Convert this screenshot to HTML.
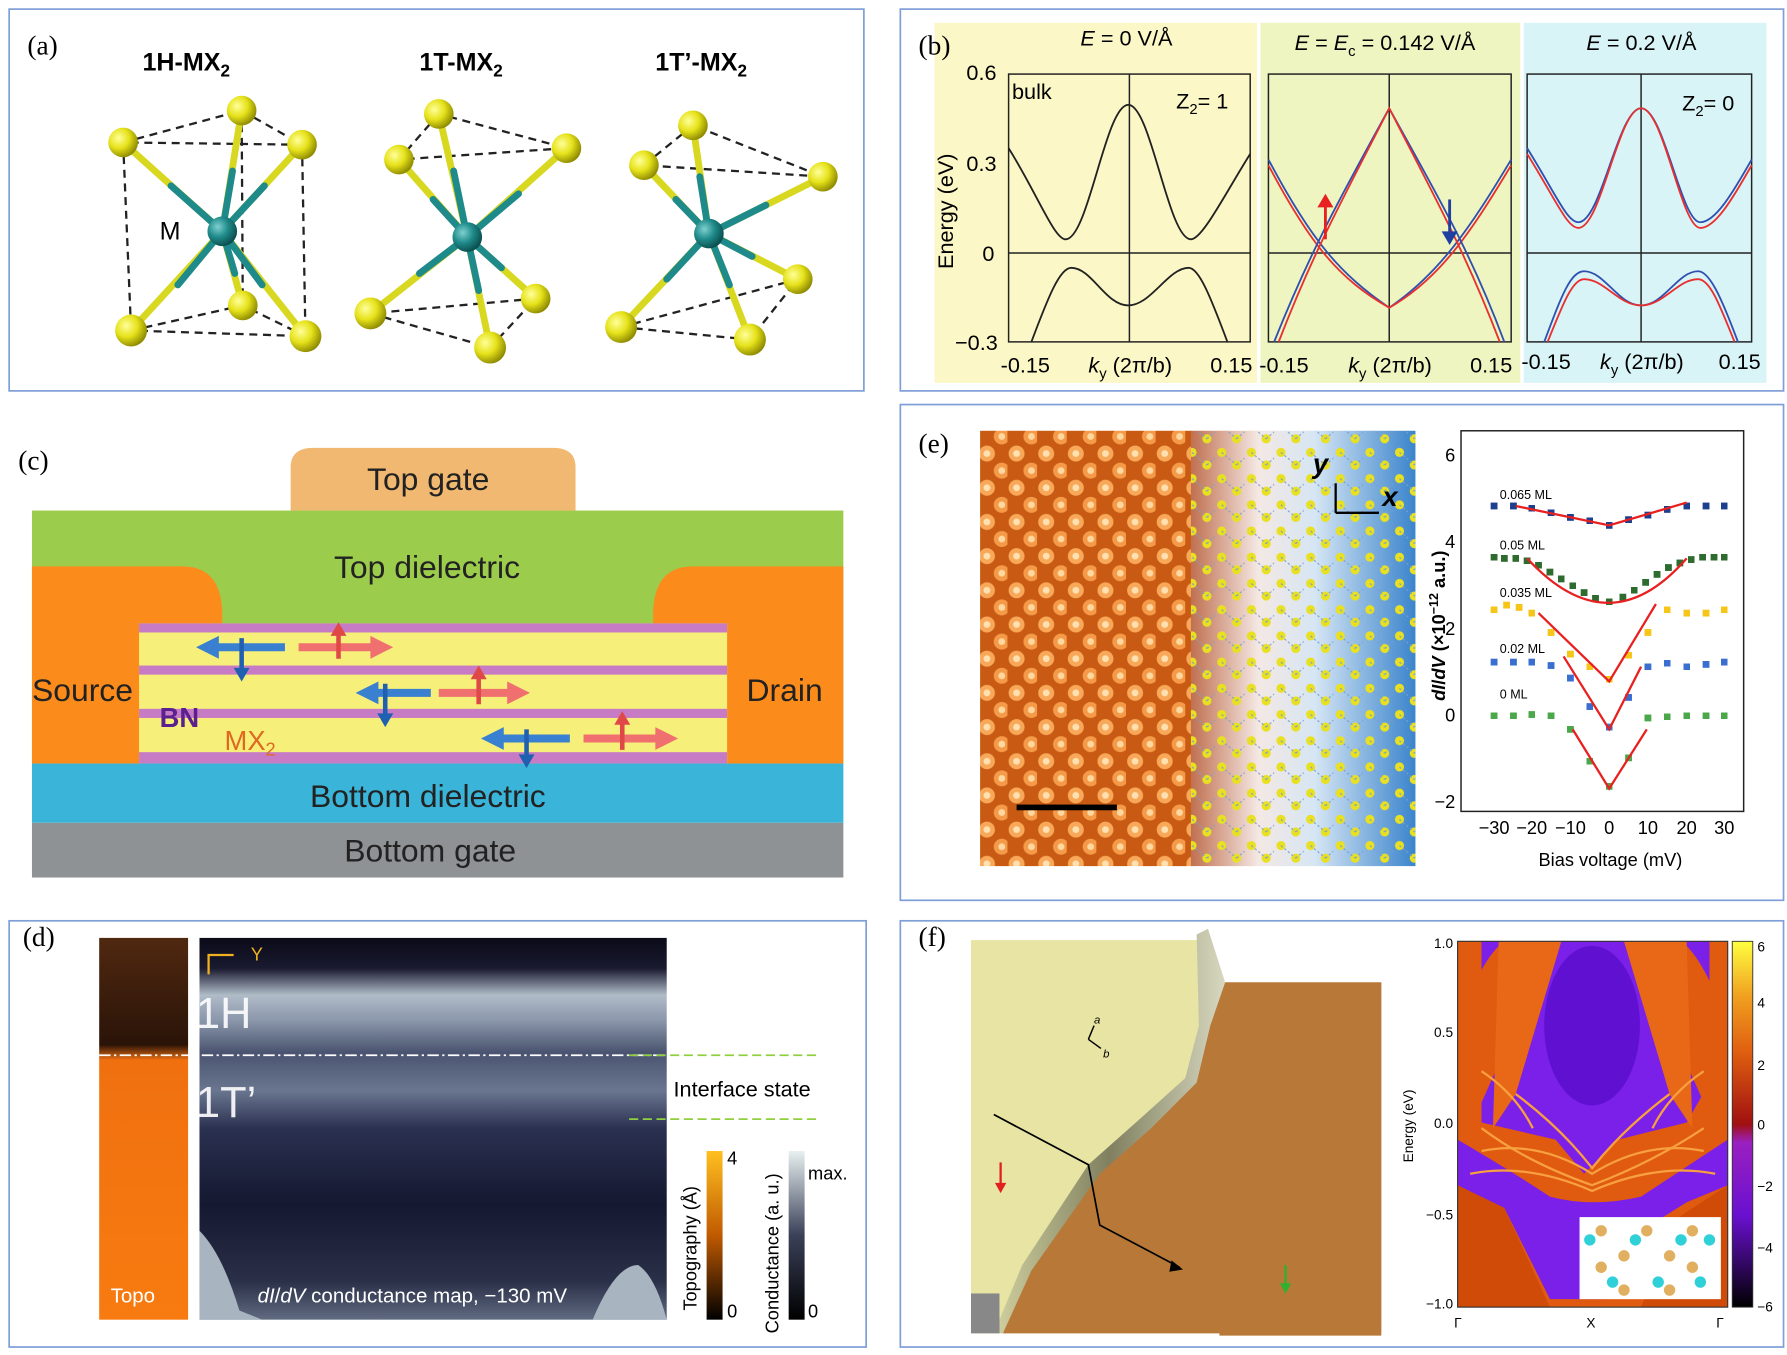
<!DOCTYPE html>
<html><head><meta charset="utf-8"><style>html,body{margin:0;padding:0;background:#fff}svg{display:block}text{font-family:"Liberation Sans",sans-serif}</style></head><body>
<svg width="1787" height="1355" viewBox="0 0 1568 1189" xmlns="http://www.w3.org/2000/svg">
<defs>
<radialGradient id="ys" cx="0.35" cy="0.35" r="0.7"><stop offset="0" stop-color="#ffff9a"/><stop offset="0.5" stop-color="#e6e21a"/><stop offset="1" stop-color="#8a8600"/></radialGradient>
<radialGradient id="ts" cx="0.35" cy="0.35" r="0.7"><stop offset="0" stop-color="#7fd0d0"/><stop offset="0.5" stop-color="#1f8a8a"/><stop offset="1" stop-color="#0a4a4a"/></radialGradient>
<linearGradient id="eg" x1="0" x2="1"><stop offset="0" stop-color="#c07050"/><stop offset="0.3" stop-color="#f4e8e4"/><stop offset="0.55" stop-color="#d6e6f4"/><stop offset="1" stop-color="#3a84cc"/></linearGradient>
<pattern id="stm" width="26" height="30" patternUnits="userSpaceOnUse"><rect width="26" height="30" fill="#c85a14"/><circle cx="8" cy="8" r="7" fill="#f8a858"/><circle cx="21" cy="23" r="7" fill="#f49a48"/><circle cx="8" cy="8" r="3" fill="#ffe0b0"/><circle cx="21" cy="23" r="3" fill="#ffd8a0"/></pattern>
<pattern id="ydots" width="26" height="23" patternUnits="userSpaceOnUse"><circle cx="6" cy="6" r="4" fill="#e8e020"/><circle cx="19" cy="17" r="4" fill="#e8e020"/><path d="M6 6 L19 17 M19 17 L32 6" stroke="#7aa0c8" stroke-width="1" stroke-dasharray="2 2"/></pattern>
<linearGradient id="dm" x1="0" y1="0" x2="0" y2="1"><stop offset="0" stop-color="#0a0a18"/><stop offset="0.08" stop-color="#1a1a30"/><stop offset="0.15" stop-color="#b0bcc8"/><stop offset="0.22" stop-color="#8894a8"/><stop offset="0.3" stop-color="#4a5470"/><stop offset="0.4" stop-color="#6a7690"/><stop offset="0.5" stop-color="#2a3050"/><stop offset="0.7" stop-color="#141830"/><stop offset="0.9" stop-color="#2a3048"/><stop offset="1" stop-color="#606a80"/></linearGradient>
<linearGradient id="topo" x1="0" y1="0" x2="0" y2="1"><stop offset="0" stop-color="#502810"/><stop offset="0.28" stop-color="#2a1408"/><stop offset="0.32" stop-color="#f07010"/><stop offset="1" stop-color="#f77b10"/></linearGradient>
<linearGradient id="cbo" x1="0" y1="1" x2="0" y2="0"><stop offset="0" stop-color="#000"/><stop offset="0.5" stop-color="#c05a00"/><stop offset="1" stop-color="#ffc020"/></linearGradient>
<linearGradient id="cbg" x1="0" y1="1" x2="0" y2="0"><stop offset="0" stop-color="#000"/><stop offset="0.5" stop-color="#3a4058"/><stop offset="1" stop-color="#e8f0f0"/></linearGradient>
<linearGradient id="cbf" x1="0" y1="1" x2="0" y2="0"><stop offset="0" stop-color="#000"/><stop offset="0.25" stop-color="#6a10d0"/><stop offset="0.45" stop-color="#9a20c0"/><stop offset="0.5" stop-color="#a01010"/><stop offset="0.7" stop-color="#e06010"/><stop offset="0.85" stop-color="#f0a020"/><stop offset="1" stop-color="#ffff40"/></linearGradient>
<linearGradient id="step" x1="0" x2="1"><stop offset="0" stop-color="#d0d0a0"/><stop offset="0.5" stop-color="#808060"/><stop offset="1" stop-color="#d8d8c0"/></linearGradient>
<marker id="mn" markerWidth="6" markerHeight="6" refX="3" refY="3" markerUnits="userSpaceOnUse"><rect width="6" height="6" fill="#1d3f8f"/></marker>
<marker id="mg" markerWidth="6" markerHeight="6" refX="3" refY="3" markerUnits="userSpaceOnUse"><rect width="6" height="6" fill="#2e6b2e"/></marker>
<marker id="my" markerWidth="6" markerHeight="6" refX="3" refY="3" markerUnits="userSpaceOnUse"><rect width="6" height="6" fill="#f5c518"/></marker>
<marker id="mb" markerWidth="6" markerHeight="6" refX="3" refY="3" markerUnits="userSpaceOnUse"><rect width="6" height="6" fill="#3a6fd0"/></marker>
<marker id="ml" markerWidth="6" markerHeight="6" refX="3" refY="3" markerUnits="userSpaceOnUse"><rect width="6" height="6" fill="#4aa84a"/></marker>
</defs>
<rect width="1568" height="1189" fill="#fff"/>
<!-- (b) backgrounds first -->
<rect x="820" y="20" width="283" height="316" fill="#fbf7c6"/><rect x="1106" y="20" width="228" height="316" fill="#eef5c0"/><rect x="1337" y="20" width="213" height="316" fill="#d9f4f6"/>
<!-- panel borders -->
<g fill="none" stroke="#7f9fd8" stroke-width="1.5">
<rect x="8" y="8" width="750" height="335"/><rect x="790" y="8" width="775" height="335"/>
<rect x="790" y="355" width="775" height="435"/><rect x="8" y="808" width="752" height="374"/><rect x="790" y="808" width="775" height="374"/>
</g>
<g font-size="24" fill="#000">
<text x="24" y="48" style="font-family:'Liberation Serif'">(a)</text><text x="806" y="48" style="font-family:'Liberation Serif'">(b)</text>
<text x="16" y="412" style="font-family:'Liberation Serif'">(c)</text><text x="806" y="397" style="font-family:'Liberation Serif'">(e)</text>
<text x="20" y="830" style="font-family:'Liberation Serif'">(d)</text><text x="806" y="830" style="font-family:'Liberation Serif'">(f)</text>
</g>
<!-- (a) -->
<g font-weight="bold" font-size="22"><text x="125" y="62">1H-MX<tspan font-size="15" dy="5">2</tspan></text><text x="368" y="62">1T-MX<tspan font-size="15" dy="5">2</tspan></text><text x="575" y="62">1T’-MX<tspan font-size="15" dy="5">2</tspan></text></g>
<g stroke="#222" stroke-width="2" stroke-dasharray="7 5" fill="none">
<path d="M108 125L212 97L265 127L108 125M108 125L115 290M265 127L268 295M212 97L213 268M115 290L213 268L268 295L115 290"/>
<path d="M385 100L350 140L497 130L385 100M325 275L430 305L470 262L325 275"/>
<path d="M608 110L565 145L722 155L608 110M545 287L658 298L700 245L545 287"/>
</g>
<g stroke-width="6" stroke-linecap="round">
<g stroke="#d8d820"><path d="M195 203L108 125M195 203L265 127M195 203L212 97M195 203L115 290M195 203L213 268M195 203L268 295"/>
<path d="M410 208L385 100M410 208L350 140M410 208L497 130M410 208L325 275M410 208L430 305M410 208L470 262"/>
<path d="M622 205L608 110M622 205L565 145M622 205L722 155M622 205L545 287M622 205L658 298M622 205L700 245"/></g>
<g stroke="#1f8a8a"><path d="M195 203L150 163M195 203L232 163M195 203L204 150M195 203L156 250M195 203L206 240M195 203L230 250"/>
<path d="M410 208L398 150M410 208L380 175M410 208L455 170M410 208L368 240M410 208L420 255M410 208L440 235"/>
<path d="M622 205L614 155M622 205L593 175M622 205L672 180M622 205L585 245M622 205L640 250M622 205L660 225"/></g>
</g>
<g fill="url(#ys)"><circle cx="108" cy="125" r="13"/><circle cx="212" cy="97" r="13"/><circle cx="265" cy="127" r="13"/><circle cx="115" cy="290" r="14"/><circle cx="213" cy="268" r="13"/><circle cx="268" cy="295" r="14"/>
<circle cx="385" cy="100" r="13"/><circle cx="350" cy="140" r="13"/><circle cx="497" cy="130" r="13"/><circle cx="325" cy="275" r="14"/><circle cx="430" cy="305" r="14"/><circle cx="470" cy="262" r="13"/>
<circle cx="608" cy="110" r="13"/><circle cx="565" cy="145" r="13"/><circle cx="722" cy="155" r="13"/><circle cx="545" cy="287" r="14"/><circle cx="658" cy="298" r="14"/><circle cx="700" cy="245" r="13"/></g>
<g fill="url(#ts)"><circle cx="195" cy="203" r="13"/><circle cx="410" cy="208" r="13"/><circle cx="622" cy="205" r="13"/></g>
<text x="140" y="210" font-size="22">M</text>
<!-- (b) plots -->
<g fill="none" stroke="#222" stroke-width="1.3">
<rect x="885" y="65" width="212" height="235"/><rect x="1113" y="65" width="213" height="235"/><rect x="1340" y="65" width="197" height="235"/>
<path d="M885 222H1097M991 65V300M1113 222H1326M1219 65V300M1340 222H1537M1440 65V300"/>
<path d="M885 130C910 170 925 210 935 210C955 210 970 92 990 92C1010 92 1025 210 1045 210C1055 210 1075 170 1097 135" stroke-width="1.6"/>
<path d="M905 300C920 260 930 235 940 235C958 235 970 268 990 268C1010 268 1025 235 1043 235C1052 235 1062 260 1077 300" stroke-width="1.6"/>
</g>
<g fill="none" stroke-width="1.6">
<path d="M1113 140C1150 210 1175 240 1219 270C1263 240 1290 200 1326 140" stroke="#3050b0"/>
<path d="M1113 145C1150 215 1175 245 1219 270C1263 245 1290 205 1326 145" stroke="#e83030"/>
<path d="M1118 300C1150 220 1175 175 1219 95C1263 175 1290 220 1320 300" stroke="#3050b0"/>
<path d="M1122 300C1152 222 1177 177 1219 95C1261 177 1286 222 1316 300" stroke="#e83030"/>
<path d="M1340 130C1365 170 1375 195 1385 195C1405 195 1420 95 1440 95C1460 95 1475 195 1492 195C1505 195 1520 170 1537 140" stroke="#3050b0"/>
<path d="M1340 135C1365 175 1375 200 1385 200C1405 200 1420 95 1440 95C1460 95 1475 200 1492 200C1505 200 1520 175 1537 145" stroke="#e83030"/>
<path d="M1355 300C1370 260 1378 238 1390 238C1408 238 1420 268 1440 268C1460 268 1472 238 1490 238C1500 238 1510 260 1525 300" stroke="#3050b0"/>
<path d="M1358 300C1372 265 1380 245 1390 245C1408 245 1420 268 1440 268C1460 268 1472 245 1490 245C1500 245 1508 265 1522 300" stroke="#e83030"/>
</g>
<path d="M1163 210V178" stroke="#e82020" stroke-width="2.5"/><path d="M1156 182L1163 170L1170 182Z" fill="#e82020"/>
<path d="M1272 175V207" stroke="#2040a0" stroke-width="2.5"/><path d="M1265 203L1272 215L1279 203Z" fill="#2040a0"/>
<g font-size="19"><text x="948" y="40"><tspan font-style="italic">E</tspan> = 0 V/Å</text><text x="1136" y="44"><tspan font-style="italic">E</tspan> = <tspan font-style="italic">E</tspan><tspan font-size="13" dy="5">c</tspan><tspan dy="-5"> = 0.142 V/Å</tspan></text><text x="1392" y="44"><tspan font-style="italic">E</tspan> = 0.2 V/Å</text>
<text x="848" y="70">0.6</text><text x="848" y="150">0.3</text><text x="862" y="229">0</text><text x="838" y="307">−0.3</text>
<text x="888" y="87">bulk</text><text x="1032" y="95">Z<tspan font-size="13" dy="5">2</tspan><tspan dy="-5">= 1</tspan></text><text x="1476" y="97">Z<tspan font-size="13" dy="5">2</tspan><tspan dy="-5">= 0</tspan></text>
<text x="878" y="327">-0.15</text><text x="955" y="327"><tspan font-style="italic">k</tspan><tspan font-size="13" dy="5">y</tspan><tspan dy="-5"> (2π/b)</tspan></text><text x="1062" y="327">0.15</text>
<text x="1105" y="327">-0.15</text><text x="1183" y="327"><tspan font-style="italic">k</tspan><tspan font-size="13" dy="5">y</tspan><tspan dy="-5"> (2π/b)</tspan></text><text x="1290" y="327">0.15</text>
<text x="1335" y="324">-0.15</text><text x="1404" y="324"><tspan font-style="italic">k</tspan><tspan font-size="13" dy="5">y</tspan><tspan dy="-5"> (2π/b)</tspan></text><text x="1508" y="324">0.15</text>
<text transform="translate(836 236) rotate(-90)">Energy  (eV)</text></g>
<!-- (c) -->
<path d="M255 448V410Q255 393 275 393H485Q505 393 505 410V448Z" fill="#f0b870"/>
<rect x="28" y="448" width="712" height="222" fill="#9ccc4c"/>
<path d="M28 670V497H160Q195 497 195 540V670Z" fill="#fb8c1c"/>
<path d="M740 670V497H608Q573 497 573 540V670Z" fill="#fb8c1c"/>
<rect x="122" y="547" width="516" height="123" fill="#f6f07a"/>
<g fill="#c77bc4"><rect x="122" y="547" width="516" height="8"/><rect x="122" y="584" width="516" height="8"/><rect x="122" y="622" width="516" height="8"/><rect x="122" y="660" width="516" height="10"/></g>
<rect x="28" y="670" width="712" height="52" fill="#3ab4d8"/><rect x="28" y="722" width="712" height="48" fill="#8e9294"/>
<g stroke-width="7">
<path d="M190 568H250M330 608H378M440 648H500" stroke="#3a80d0"/>
<path d="M262 568H330M385 608H450M512 648H580" stroke="#f07070"/>
</g>
<g fill="#3a80d0"><path d="M172 568L192 558V578Z"/><path d="M312 608L332 598V618Z"/><path d="M422 648L442 638V658Z"/></g>
<g fill="#f07070"><path d="M345 568L325 558V578Z"/><path d="M465 608L445 598V618Z"/><path d="M595 648L575 638V658Z"/></g>
<g stroke-width="4"><path d="M212 560V588M338 600V628M462 640V664" stroke="#2060b0"/><path d="M297 578V556M420 618V594M546 658V634" stroke="#e04848"/></g>
<g fill="#2060b0"><path d="M205 586L212 598L219 586Z"/><path d="M331 626L338 638L345 626Z"/><path d="M455 662L462 674L469 662Z"/></g>
<g fill="#e04848"><path d="M290 558L297 546L304 558Z"/><path d="M413 596L420 584L427 596Z"/><path d="M539 636L546 624L553 636Z"/></g>
<g font-size="28" fill="#222"><text x="322" y="430">Top gate</text><text x="293" y="507">Top dielectric</text><text x="28" y="615">Source</text><text x="655" y="615">Drain</text><text x="272" y="708">Bottom dielectric</text><text x="302" y="756">Bottom gate</text>
<text x="140" y="638" fill="#5a2090" font-weight="bold" font-size="24">BN</text><text x="197" y="658" fill="#e06820" font-size="24">MX<tspan font-size="16" dy="5">2</tspan></text></g>
<!-- (d) -->
<rect x="87" y="823" width="78" height="335" fill="url(#topo)"/>
<rect x="175" y="823" width="410" height="335" fill="url(#dm)"/>
<path d="M175 1158V1080Q195 1100 210 1150L230 1158ZM520 1158Q540 1110 560 1110Q575 1120 585 1158Z" fill="#a8b4c0"/>
<path d="M87 926H585" stroke="#fff" stroke-width="1.5" stroke-dasharray="10 3 2 3"/>
<path d="M552 926H718M552 982H718" stroke="#90d040" stroke-width="1.5" stroke-dasharray="8 4"/>
<g fill="#fff" font-size="38" opacity="0.9"><text x="172" y="902">1H</text><text x="172" y="980">1T’</text></g>
<path d="M183 855V838H205" stroke="#f0b020" stroke-width="2" fill="none"/><text x="220" y="843" fill="#f0b020" font-size="16">Y</text>
<g font-size="18" fill="#fff"><text x="97" y="1143">Topo</text><text x="226" y="1143"><tspan font-style="italic">dI</tspan>/<tspan font-style="italic">dV</tspan> conductance map, −130 mV</text></g>
<text x="591" y="962" font-size="19">Interface state</text>
<rect x="620" y="1010" width="14" height="148" fill="url(#cbo)"/><rect x="692" y="1010" width="14" height="148" fill="url(#cbg)"/>
<g font-size="16"><text x="638" y="1022">4</text><text x="638" y="1156">0</text><text x="709" y="1035">max.</text><text x="709" y="1156">0</text>
<text transform="translate(611 1150) rotate(-90)">Topography (Å)</text><text transform="translate(683 1170) rotate(-90)">Conductance (a. u.)</text></g>
<!-- (e) -->
<rect x="860" y="378" width="186" height="382" fill="url(#stm)"/>
<rect x="1045" y="378" width="197" height="382" fill="url(#eg)"/><rect x="1045" y="378" width="197" height="382" fill="url(#ydots)"/>
<rect x="892" y="706" width="88" height="5" fill="#000"/>
<path d="M1172 450V424M1172 450H1210" stroke="#000" stroke-width="2" fill="none"/><text x="1152" y="415" font-size="24" font-style="italic" font-weight="bold">y</text><text x="1213" y="444" font-size="24" font-style="italic" font-weight="bold">x</text>
<rect x="1282" y="378" width="248" height="334" fill="none" stroke="#222" stroke-width="1.3"/>
<g font-size="16"><text x="1277" y="405" text-anchor="end">6</text><text x="1277" y="481" text-anchor="end">4</text><text x="1277" y="557" text-anchor="end">2</text><text x="1277" y="633" text-anchor="end">0</text><text x="1277" y="709" text-anchor="end">−2</text>
<text x="1311" y="732" text-anchor="middle">−30</text><text x="1344" y="732" text-anchor="middle">−20</text><text x="1378" y="732" text-anchor="middle">−10</text><text x="1412" y="732" text-anchor="middle">0</text><text x="1446" y="732" text-anchor="middle">10</text><text x="1480" y="732" text-anchor="middle">20</text><text x="1513" y="732" text-anchor="middle">30</text>
<text x="1350" y="760">Bias voltage (mV)</text>
<text transform="translate(1268 615) rotate(-90)" font-weight="bold"><tspan font-style="italic">dI</tspan>/<tspan font-style="italic">dV</tspan> (×10<tspan font-size="11" dy="-6">−12</tspan><tspan dy="6"> a.u.)</tspan></text></g>
<g font-size="11"><text x="1316" y="438">0.065 ML</text><text x="1316" y="482">0.05 ML</text><text x="1316" y="524">0.035 ML</text><text x="1316" y="573">0.02 ML</text><text x="1316" y="613">0 ML</text></g>
<g fill="none" stroke="none">
<polyline marker-start="url(#mn)" marker-mid="url(#mn)" marker-end="url(#mn)" points="1311,444 1328,444 1344,446 1361,450 1378,454 1395,457 1412,461 1429,456 1446,452 1463,447 1480,444 1497,444 1513,444"/>
<polyline marker-start="url(#mg)" marker-mid="url(#mg)" marker-end="url(#mg)" points="1311,489 1320,490 1330,490 1340,492 1350,496 1360,502 1370,508 1380,514 1390,520 1400,525 1412,528 1424,524 1434,518 1444,511 1454,504 1464,498 1474,494 1484,491 1494,489 1504,489 1513,489"/>
<polyline marker-start="url(#my)" marker-mid="url(#my)" marker-end="url(#my)" points="1311,535 1322,531 1333,533 1344,538 1361,555 1378,574 1395,585 1412,596 1429,575 1446,555 1463,535 1480,538 1497,538 1513,535"/>
<polyline marker-start="url(#mb)" marker-mid="url(#mb)" marker-end="url(#mb)" points="1311,581 1328,581 1344,581 1361,584 1378,595 1395,620 1412,638 1429,612 1446,585 1463,582 1480,585 1497,583 1513,581"/>
<polyline marker-start="url(#ml)" marker-mid="url(#ml)" marker-end="url(#ml)" points="1311,628 1328,628 1344,627 1361,628 1378,640 1395,668 1412,690 1429,665 1446,630 1463,629 1480,628 1497,628 1513,628"/>
</g>
<g stroke="#e82020" stroke-width="2" fill="none"><path d="M1330 444L1412 461L1480 441"/><path d="M1340 490Q1412 568 1480 490"/><path d="M1350 538L1412 598L1453 530"/><path d="M1372 576L1412 640L1440 585"/><path d="M1380 640L1412 692L1445 640"/></g>
<!-- (f) left -->
<rect x="1070" y="862" width="142" height="310" fill="#b87838"/>
<path d="M1062 880L1070 862H1212V1170H880L900 1110L960 1025L1005 985L1045 950L1058 900Z" fill="#b87838"/>
<path d="M852 825H1050L1060 815L1058 900L1045 950L1005 985L960 1025L900 1110L875 1170H852Z" fill="#e8e4a4"/>
<path d="M1050 820L1060 815L1075 862L1062 900L1050 950L1010 990L965 1030L905 1115L880 1170H872L897 1110L955 1022L1000 982L1040 946L1052 900Z" fill="url(#step)"/>
<rect x="852" y="1135" width="25" height="35" fill="#888"/>
<path d="M872 978L955 1022L965 1075L1035 1112" stroke="#000" stroke-width="1.5" fill="none"/><path d="M1028 1106L1038 1114L1026 1116Z" fill="#000"/>
<path d="M878 1020V1042" stroke="#e02020" stroke-width="2"/><path d="M873 1038L878 1047L883 1038Z" fill="#e02020"/>
<path d="M1128 1110V1130" stroke="#30b030" stroke-width="2"/><path d="M1123 1126L1128 1135L1133 1126Z" fill="#30b030"/>
<path d="M955 912L960 900M955 912L966 920" stroke="#000" stroke-width="1.3"/><text x="960" y="898" font-size="10" font-style="italic">a</text><text x="968" y="928" font-size="10" font-style="italic">b</text>
<!-- (f) right -->
<rect x="1279" y="826" width="237" height="321" fill="#e05a10"/>
<path d="M1300 826H1500V950L1480 985L1420 1000L1390 1030L1365 1000L1300 985Z" fill="#7a20e8"/>
<path d="M1279 900Q1300 840 1320 826H1345L1330 900L1290 990H1279Z" fill="#e05a10"/>
<path d="M1516 900Q1495 840 1475 826H1450L1465 900L1505 990H1516Z" fill="#e05a10"/>
<path d="M1315 826L1370 826L1330 960L1310 990Z" fill="#e86818"/>
<path d="M1480 826L1425 826L1465 960L1485 990Z" fill="#e86818"/>
<ellipse cx="1397" cy="900" rx="42" ry="70" fill="#6010d0"/>
<path d="M1279 1000Q1330 1030 1360 1050Q1397 1060 1440 1050L1516 1000V1040L1480 1055L1440 1080L1410 1140H1360L1320 1060L1279 1040Z" fill="#7a20e8"/>
<path d="M1279 1040L1320 1060L1360 1147H1279Z" fill="#d04a08"/><path d="M1516 1040L1470 1070L1440 1147H1516Z" fill="#d04a08"/>
<g stroke="#f8a040" stroke-width="2" fill="none"><path d="M1300 990Q1340 1020 1397 1040Q1450 1020 1495 990"/><path d="M1300 1010Q1350 1000 1397 1030Q1445 1000 1495 1010"/><path d="M1290 1030Q1340 1020 1397 1045Q1455 1020 1505 1030"/><path d="M1330 960Q1370 990 1397 1025Q1425 990 1465 960"/><path d="M1300 940Q1330 960 1345 990M1495 940Q1465 960 1450 990"/></g>
<rect x="1279" y="826" width="237" height="321" fill="none" stroke="#333" stroke-width="1"/>
<rect x="1386" y="1068" width="124" height="72" fill="#fff"/>
<g fill="#e0b060"><circle cx="1405" cy="1080" r="5"/><circle cx="1445" cy="1080" r="5"/><circle cx="1485" cy="1080" r="5"/><circle cx="1425" cy="1102" r="5"/><circle cx="1465" cy="1102" r="5"/><circle cx="1405" cy="1112" r="5"/><circle cx="1485" cy="1112" r="5"/><circle cx="1425" cy="1132" r="5"/><circle cx="1465" cy="1132" r="5"/></g>
<g fill="#30d0d8"><circle cx="1395" cy="1088" r="5"/><circle cx="1435" cy="1088" r="5"/><circle cx="1475" cy="1088" r="5"/><circle cx="1500" cy="1088" r="5"/><circle cx="1415" cy="1125" r="5"/><circle cx="1455" cy="1125" r="5"/><circle cx="1492" cy="1125" r="5"/></g>
<rect x="1520" y="826" width="18" height="321" fill="url(#cbf)" stroke="#333" stroke-width="0.8"/>
<g font-size="12"><text x="1275" y="832" text-anchor="end">1.0</text><text x="1275" y="910" text-anchor="end">0.5</text><text x="1275" y="990" text-anchor="end">0.0</text><text x="1275" y="1070" text-anchor="end">−0.5</text><text x="1275" y="1148" text-anchor="end">−1.0</text>
<text x="1542" y="835">6</text><text x="1542" y="884">4</text><text x="1542" y="939">2</text><text x="1542" y="991">0</text><text x="1542" y="1045">−2</text><text x="1542" y="1099">−4</text><text x="1542" y="1151">−6</text>
<text x="1276" y="1165">Γ</text><text x="1392" y="1165">X</text><text x="1506" y="1165">Γ</text>
<text transform="translate(1240 1020) rotate(-90)">Energy (eV)</text></g>
</svg>
</body></html>
